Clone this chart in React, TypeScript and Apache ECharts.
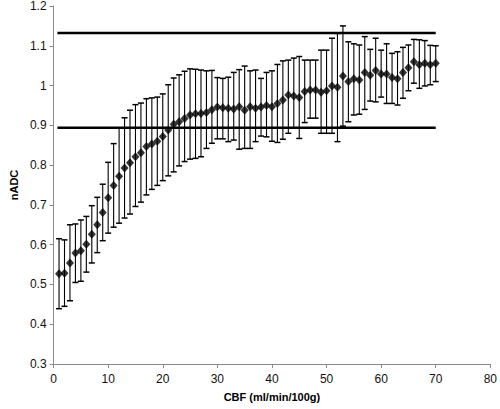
import React, { useEffect, useRef } from "react";
import * as echarts from "echarts";

const cbf = [
  1, 2, 3, 4, 5, 6, 7, 8, 9, 10, 11, 12, 13, 14, 15, 16, 17, 18, 19, 20,
  21, 22, 23, 24, 25, 26, 27, 28, 29, 30, 31, 32, 33, 34, 35, 36, 37, 38, 39, 40,
  41, 42, 43, 44, 45, 46, 47, 48, 49, 50, 51, 52, 53, 54, 55, 56, 57, 58, 59, 60,
  61, 62, 63, 64, 65, 66, 67, 68, 69, 70,
];

const nadcMean = [
  0.527, 0.528, 0.554, 0.579, 0.585, 0.601, 0.626, 0.65, 0.681, 0.718,
  0.749, 0.772, 0.793, 0.806, 0.821, 0.831, 0.847, 0.853, 0.86, 0.872,
  0.888, 0.903, 0.909, 0.917, 0.926, 0.929, 0.93, 0.932, 0.939, 0.946,
  0.944, 0.943, 0.941, 0.947, 0.938, 0.947, 0.943, 0.946, 0.95, 0.947,
  0.955, 0.964, 0.976, 0.974, 0.97, 0.985, 0.989, 0.989, 0.983, 0.987,
  0.999, 0.996, 1.024, 1.01, 1.017, 1.014, 1.033, 1.026, 1.038, 1.029,
  1.029, 1.02, 1.017, 1.033, 1.045, 1.06, 1.052, 1.056, 1.052, 1.056,
];

const nadcUpper = [
  0.615, 0.612, 0.65, 0.652, 0.662, 0.671, 0.698, 0.719, 0.752, 0.807,
  0.854, 0.894, 0.919, 0.938, 0.952, 0.956, 0.967, 0.969, 0.971, 0.979,
  1.002, 1.019, 1.027, 1.036, 1.042, 1.041, 1.039, 1.037, 1.038, 1.02,
  1.018, 1.021, 1.033, 1.04, 1.049, 1.037, 1.039, 1.018, 1.033, 1.037,
  1.053, 1.062, 1.064, 1.069, 1.073, 1.064, 1.064, 1.064, 1.089, 1.089,
  1.119, 1.131, 1.15, 1.11, 1.105, 1.102, 1.123, 1.091, 1.119, 1.089,
  1.105, 1.081, 1.085, 1.096, 1.102, 1.116, 1.115, 1.113, 1.101, 1.1,
];

const nadcLower = [
  0.439, 0.445, 0.459, 0.505, 0.508, 0.531, 0.554, 0.58, 0.61, 0.629,
  0.644, 0.654, 0.667, 0.677, 0.696, 0.707, 0.725, 0.739, 0.749, 0.761,
  0.773, 0.783, 0.798, 0.809, 0.815, 0.817, 0.821, 0.842, 0.855, 0.866,
  0.866, 0.859, 0.863, 0.84, 0.842, 0.842, 0.859, 0.873, 0.871, 0.86,
  0.857, 0.865, 0.88, 0.894, 0.867, 0.907, 0.918, 0.918, 0.88, 0.88,
  0.88, 0.859, 0.898, 0.909, 0.926, 0.928, 0.94, 0.961, 0.959, 0.971,
  0.955, 0.955, 0.951, 0.968, 0.987, 1.006, 0.993, 0.999, 1.002, 1.01,
];

const thresholdUpper = 1.132;
const thresholdLower = 0.894;
const thresholdX = [0.7, 70];

const xAxisName = "CBF (ml/min/100g)";
const yAxisName = "nADC";

const FONT = "'Liberation Sans', Arial, sans-serif";

export default function App() {
  const ref = useRef<HTMLDivElement>(null);

  useEffect(() => {
    if (!ref.current) return;
    const chart = echarts.init(ref.current, undefined, { renderer: "svg" });

    const meanData = cbf.map((x, i) => [x, nadcMean[i]]);
    const errData = cbf.map((x, i) => [x, nadcLower[i], nadcUpper[i]]);

    const axisLine = { show: true, lineStyle: { color: "#8a8a8a", width: 1 } };
    const axisTick = { show: true, length: 4, lineStyle: { color: "#8a8a8a", width: 1 } };

    chart.setOption({
      animation: false,
      backgroundColor: "#fff",
      grid: { left: 43, right: 8, top: 6, bottom: 45, containLabel: false },
      xAxis: {
        type: "value",
        min: 0,
        max: 80,
        interval: 10,
        name: xAxisName,
        nameLocation: "middle",
        nameGap: 27,
        nameTextStyle: { fontFamily: FONT, fontSize: 11, fontWeight: "bold", color: "#000" },
        axisLine,
        axisTick,
        splitLine: { show: false },
        axisLabel: { fontFamily: FONT, fontSize: 12, color: "#111", margin: 9 },
      },
      yAxis: {
        type: "value",
        min: 0.3,
        max: 1.2,
        interval: 0.1,
        name: yAxisName,
        nameLocation: "middle",
        nameGap: 31,
        nameRotate: 90,
        nameTextStyle: { fontFamily: FONT, fontSize: 11, fontWeight: "bold", color: "#000" },
        axisLine,
        axisTick,
        splitLine: { show: false },
        axisLabel: {
          fontFamily: FONT,
          fontSize: 12,
          color: "#111",
          margin: 7,
          formatter: (v: number) => String(parseFloat(v.toFixed(1))),
        },
      },
      series: [
        {
          type: "line",
          data: [
            [thresholdX[0], thresholdUpper],
            [thresholdX[1], thresholdUpper],
          ],
          symbol: "none",
          lineStyle: { color: "#000", width: 2.5 },
          silent: true,
          z: 2,
        },
        {
          type: "line",
          data: [
            [thresholdX[0], thresholdLower],
            [thresholdX[1], thresholdLower],
          ],
          symbol: "none",
          lineStyle: { color: "#000", width: 2.5 },
          silent: true,
          z: 2,
        },
        {
          type: "custom",
          data: errData,
          z: 3,
          silent: true,
          renderItem: (params: any, api: any) => {
            const x = api.value(0);
            const lo = api.value(1);
            const hi = api.value(2);
            const pHi = api.coord([x, hi]);
            const pLo = api.coord([x, lo]);
            const hw = 3;
            const style = { stroke: "#000", lineWidth: 1.1 };
            return {
              type: "group",
              children: [
                { type: "line", shape: { x1: pHi[0], y1: pHi[1], x2: pLo[0], y2: pLo[1] }, style },
                { type: "line", shape: { x1: pHi[0] - hw, y1: pHi[1], x2: pHi[0] + hw, y2: pHi[1] }, style: { stroke: "#000", lineWidth: 1.5 } },
                { type: "line", shape: { x1: pLo[0] - hw, y1: pLo[1], x2: pLo[0] + hw, y2: pLo[1] }, style: { stroke: "#000", lineWidth: 1.5 } },
              ],
            };
          },
        },
        {
          type: "scatter",
          data: meanData,
          symbol: "diamond",
          symbolSize: [8, 9],
          itemStyle: { color: "#000" },
          z: 4,
        },
      ],
    });

    return () => chart.dispose();
  }, []);

  return (
    <div
      ref={ref}
      style={{ position: "absolute", left: 0, top: 0, width: 500, height: 409, background: "#fff" }}
    />
  );
}
